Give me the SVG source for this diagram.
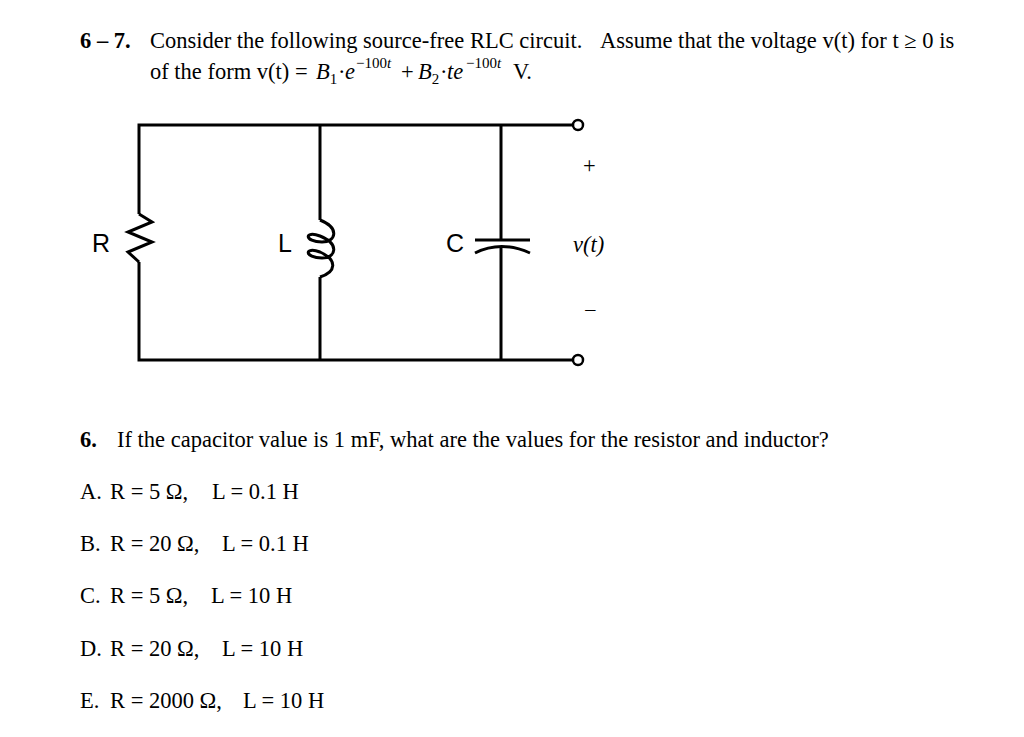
<svg xmlns="http://www.w3.org/2000/svg" width="1024" height="737" viewBox="0 0 1024 737">
<style>
.t{font-family:"Liberation Serif",serif;font-size:22.5px;fill:#000}
.s{font-family:"Liberation Sans",sans-serif;font-size:25px;fill:#000}
.w{fill:none;stroke:#000;stroke-width:3}
.e{font-size:15px}
</style>
<rect width="1024" height="737" fill="#fff"/>
<text class="t" x="80" y="48" font-weight="bold">6 – 7.</text>
<text class="t" x="150" y="48">Consider the following source-free RLC circuit.</text>
<text class="t" x="600" y="48">Assume that the voltage v(t) for t ≥ 0 is</text>
<text class="t" x="150" y="79">of the form v(t) =</text>
<text class="t" x="316" y="79"><tspan font-style="italic">B</tspan><tspan class="e" dy="5">1</tspan></text>
<text class="t" x="338" y="79">·</text>
<text class="t" x="345" y="79" font-style="italic">e</text>
<text class="t e" x="356" y="68">−100<tspan font-style="italic">t</tspan></text>
<text class="t" x="401" y="79">+</text>
<text class="t" x="418" y="79"><tspan font-style="italic">B</tspan><tspan class="e" dy="5">2</tspan></text>
<text class="t" x="440" y="79">·</text>
<text class="t" x="447" y="79" font-style="italic">te</text>
<text class="t e" x="466" y="68">−100<tspan font-style="italic">t</tspan></text>
<text class="t" x="513" y="79">V.</text>
<g id="connectors">
<path class="w" d="M574,125 H139 V214 M139,262 V360 H574 M320,125 V220 M320,277 V360 M501,125 V240 M501,248 V360"/>
</g>
<g id="R"><path class="w" d="M139,214 L152,222 L128,232 L152,242 L128,252 L139,262"/><text class="s" x="92" y="252">R</text></g>
<g id="L"><path class="w" d="M320,220 C340,228 336,242 322,242 C304,242 304,230 320,236 C340,244 336,258 322,258 C304,258 304,246 320,252 C338,260 336,272 320,277"/><text class="s" x="278" y="252">L</text></g>
<g id="C"><path class="w" d="M475,240 H530 M475,253 Q501,240 530,253"/><text class="s" x="446" y="252">C</text></g>
<g id="terminals"><circle cx="578" cy="125" r="5" fill="#fff" stroke="#000" stroke-width="2.5"/><circle cx="578" cy="360" r="5" fill="#fff" stroke="#000" stroke-width="2.5"/>
<text class="t" x="583" y="173" font-size="19">+</text><text class="t" x="573" y="252" font-style="italic" font-size="20">v(t)</text><text class="t" x="584" y="318">−</text></g>
<text class="t" x="80" y="447" font-weight="bold">6.</text>
<text class="t" x="117" y="447">If the capacitor value is 1 mF, what are the values for the resistor and inductor?</text>
<text class="t" x="80" y="499">A.</text><text class="t" x="110" y="499">R = 5 Ω,</text><text class="t" x="212" y="499">L = 0.1 H</text>
<text class="t" x="80" y="551">B.</text><text class="t" x="110" y="551">R = 20 Ω,</text><text class="t" x="222" y="551">L = 0.1 H</text>
<text class="t" x="80" y="603">C.</text><text class="t" x="110" y="603">R = 5 Ω,</text><text class="t" x="211" y="603">L = 10 H</text>
<text class="t" x="80" y="656">D.</text><text class="t" x="110" y="656">R = 20 Ω,</text><text class="t" x="222" y="656">L = 10 H</text>
<text class="t" x="80" y="708">E.</text><text class="t" x="110" y="708">R = 2000 Ω,</text><text class="t" x="243" y="708">L = 10 H</text>
</svg>
